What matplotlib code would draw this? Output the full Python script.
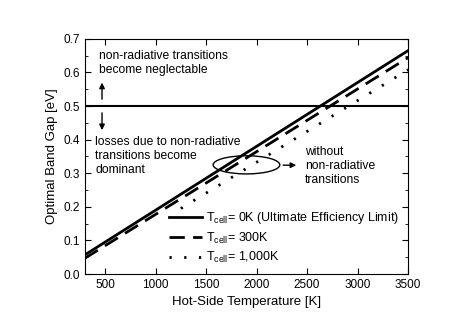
import matplotlib
matplotlib.use("Agg")
import matplotlib.pyplot as plt
from matplotlib.patches import Ellipse
from matplotlib.ticker import MultipleLocator

plt.rcParams['font.family'] = ['Liberation Sans', 'DejaVu Sans']

# hot-side temperature [K] and optimal band gap [eV]
t_0k = [300, 3500]
eg_0k = [0.057, 0.665]
t_300k = [300, 3500]
eg_300k = [0.047, 0.644]
t_1000k = [1250, 3500]
eg_1000k = [0.195, 0.608]
labels = [r'$\mathregular{T_{cell}}$= 0K (Ultimate Efficiency Limit)',
          r'$\mathregular{T_{cell}}$= 300K',
          r'$\mathregular{T_{cell}}$= 1,000K']
threshold = 0.5

fig = plt.figure(figsize=(4.74, 3.29), dpi=100)
ax = fig.add_axes([0.179, 0.167, 0.682, 0.715])

ax.plot(t_0k, eg_0k, '-', color='black', lw=2, label=labels[0])
ax.plot(t_300k, eg_300k, '--', color='black', lw=2, dashes=(5.5, 3), label=labels[1])
ax.plot(t_1000k, eg_1000k, ':', color='black', lw=2, dashes=(0.8, 4.5), label=labels[2])
ax.axhline(threshold, color='black', lw=1.5)

ax.set_xlim(300, 3500)
ax.set_ylim(0, 0.7)
ax.xaxis.set_major_locator(MultipleLocator(500))
ax.yaxis.set_major_locator(MultipleLocator(0.1))
ax.yaxis.set_minor_locator(MultipleLocator(0.05))
ax.tick_params(which='both', direction='in', top=True, right=True, labelsize=8.5)
ax.tick_params(which='major', length=4)
ax.tick_params(which='minor', length=2)
ax.set_xlabel('Hot-Side Temperature [K]', fontsize=9.5)
ax.set_ylabel('Optimal Band Gap [eV]', fontsize=9.5)

ax.text(440, 0.628, 'non-radiative transitions\nbecome neglectable',
        fontsize=8.7, va='center', linespacing=1.2)
ax.annotate('', xy=(470, 0.578), xytext=(470, 0.512),
            arrowprops=dict(arrowstyle='-|>', color='black', lw=1, mutation_scale=8))
ax.annotate('', xy=(470, 0.42), xytext=(470, 0.488),
            arrowprops=dict(arrowstyle='-|>', color='black', lw=1, mutation_scale=8))
ax.text(405, 0.352, 'losses due to non-radiative\ntransitions become\ndominant',
        fontsize=8.7, va='center', linespacing=1.2)

ax.add_patch(Ellipse((1900, 0.325), 660, 0.054, fill=False, color='black', lw=1))
ax.annotate('', xy=(2420, 0.324), xytext=(2235, 0.324),
            arrowprops=dict(arrowstyle='-|>', color='black', lw=1, mutation_scale=8))
ax.text(2480, 0.322, 'without\nnon-radiative\ntransitions',
        fontsize=8.7, va='center', linespacing=1.2)

ax.legend(loc='lower right', frameon=False, fontsize=9, handlelength=2.6,
          handletextpad=0.35, labelspacing=0.35, borderaxespad=0.3,
          bbox_to_anchor=(1.0, 0.0))

fig.savefig('out.png', dpi=100)
